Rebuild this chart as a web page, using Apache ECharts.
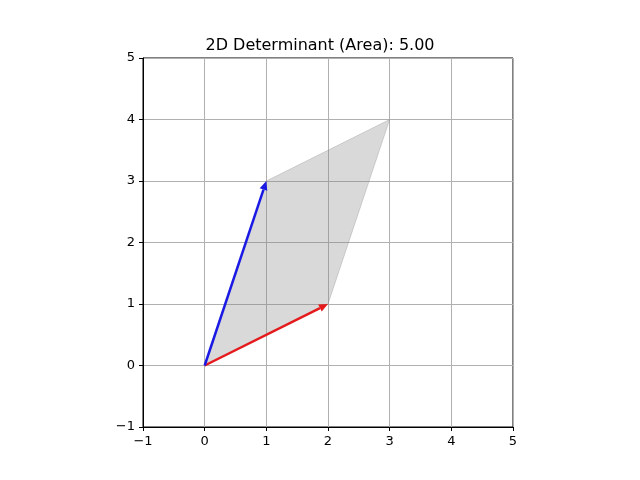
<!DOCTYPE html>
<html><head><meta charset="utf-8">
<script src="https://cdn.jsdelivr.net/npm/echarts@6/dist/echarts.min.js"></script>
<style>html,body{margin:0;padding:0;background:#fff}#c{width:640px;height:480px}</style>
</head><body><div id="c"></div>
<script>
const title = '2D Determinant (Area): 5.00';
const vecA = [2, 1];
const vecB = [1, 3];
const parallelogram = [[0,0],[2,1],[3,4],[1,3]];
const vectors = [{v: vecA, color: '#e41a1c'}, {v: vecB, color: '#1a1ae4'}];
const fmt = v => String(v).replace('-', '\u2212');
const chart = echarts.init(document.getElementById('c'));
const axisCommon = {
  type: 'value', min: -1, max: 5, interval: 1,
  axisLine: {show: true, onZero: false, lineStyle: {color: '#000'}},
  axisTick: {show: true, inside: false, length: 4, lineStyle: {color: '#000'}},
  axisLabel: {color: '#000', fontSize: 13, fontFamily: 'DejaVu Sans', formatter: fmt},
  splitLine: {show: true, lineStyle: {color: '#b0b0b0', width: 1}}
};
chart.setOption({
  animation: false,
  title: {text: title, left: 'center', top: 33, textStyle: {fontSize: 16, fontWeight: 'normal', fontFamily: 'DejaVu Sans', color: '#000'}},
  grid: {left: 143, right: 127, top: 58, bottom: 53, show: true, borderColor: '#000', borderWidth: 1, backgroundColor: 'transparent'},
  xAxis: axisCommon,
  yAxis: axisCommon,
  series: [
    {type: 'custom', data: [0], z: 2,
     renderItem: (params, api) => ({type: 'polygon', shape: {points: parallelogram.map(p => api.coord(p))},
       style: {fill: 'rgba(128,128,128,0.3)', stroke: 'rgba(128,128,128,0.3)'}})},
    {type: 'custom', data: vectors.map((d, i) => i), z: 3,
     renderItem: (params, api) => {
       const d = vectors[params.dataIndex];
       const p0 = api.coord([0,0]), p1 = api.coord(d.v);
       const dx = p1[0]-p0[0], dy = p1[1]-p0[1], L = Math.hypot(dx, dy);
       const ux = dx/L, uy = dy/L, hl = 9, hw = 4;
       const bx = p1[0]-ux*hl, by = p1[1]-uy*hl;
       return {type: 'group', children: [
         {type: 'line', shape: {x1: p0[0], y1: p0[1], x2: bx, y2: by}, style: {stroke: d.color, lineWidth: 2.5}},
         {type: 'polygon', shape: {points: [p1, [bx - uy*hw, by + ux*hw], [bx + uy*hw, by - ux*hw]]}, style: {fill: d.color}}
       ]};
     }}
  ]
});
</script></body></html>
